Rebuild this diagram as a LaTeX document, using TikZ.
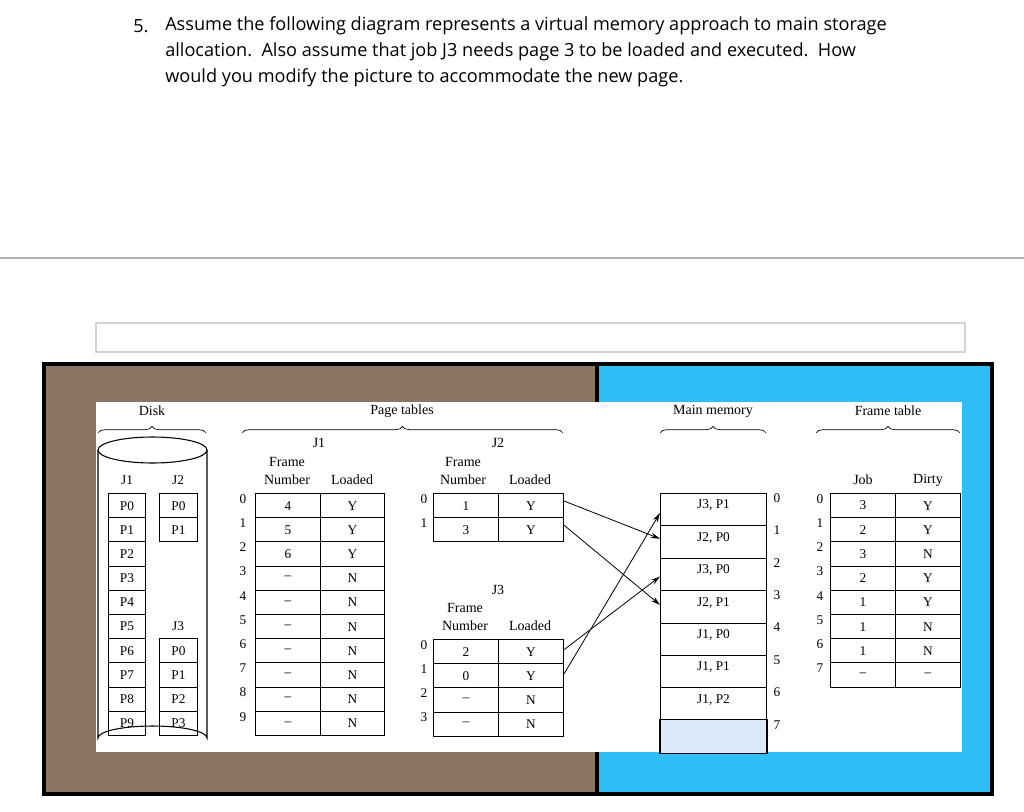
\documentclass[tikz,border=0pt]{standalone}
\usepackage{fontspec}
\setmainfont{Liberation Serif}
\newfontfamily\topfont{Open Sans}
\usetikzlibrary{shapes.geometric,decorations.pathreplacing,arrows.meta}
\definecolor{brownbg}{HTML}{8C7560}
\definecolor{bluebg}{HTML}{2EBFF7}
\definecolor{lightcell}{HTML}{DCE9F8}
\tikzset{
  cell/.style={draw,line width=0.8pt,minimum width=#1*0.75pt,minimum height=24.2*0.75pt,inner sep=0pt,anchor=north west,font=\fontsize{10}{12}\selectfont},
  lbl/.style={font=\fontsize{10}{12}\selectfont,inner sep=0pt},
  hdr/.style={font=\fontsize{10.5}{12}\selectfont,inner sep=0pt},
  brc/.style={decorate,decoration={brace,amplitude=5pt},line width=0.5pt},
  arr/.style={-{Stealth[length=7pt,width=4pt]},line width=0.6pt},
  qtext/.style={font=\topfont\fontsize{13.6}{16}\selectfont,anchor=west,inner sep=0pt}
}
\begin{document}
\begin{tikzpicture}[x=0.75pt,y=-0.75pt]
\useasboundingbox (0,0) rectangle (1024,811);
\fill[white] (0,0) rectangle (1024,811);
% question
\node[qtext] (q0) at (133,26) {5.};
\node[qtext] (q1) at (165,26) {Assume the following diagram represents a virtual memory approach to main storage};
\node[qtext] (q2) at (165,52) {allocation.\ \ Also assume that job J3 needs page 3 to be loaded and executed.\ \ How};
\node[qtext] (q3) at (165,78) {would you modify the picture to accommodate the new page.};
\draw[gray!60,line width=0.8pt] (0,258) -- (1024,258);
\draw[gray!35,line width=0.8pt] (96,323) rectangle (965,352);
% background
\fill[brownbg] (44,364) rectangle (597,794);
\fill[bluebg] (597,364) rectangle (992,794);
\draw[line width=2.5pt] (597,364) -- (597,794);
\draw[line width=2.5pt] (44,364) rectangle (992,794);
\fill[white] (96,402) rectangle (962,752);
% labels and braces
\node[hdr] (ldisk) at (152,411) {Disk};
\node[hdr] (lpt) at (402,411) {Page tables};
\node[hdr] (lmm) at (713,411) {Main memory};
\node[hdr] (lft) at (888,411) {Frame table};
\draw[brc] (98,433) -- (206,433);
\draw[brc] (242,433) -- (563,433);
\draw[brc] (660,433) -- (766,433);
\draw[brc] (816,433) -- (960,433);
% disk cylinder
\draw[line width=0.8pt] (98,450) -- (98,738) arc[start angle=180,end angle=360,x radius=54.5,y radius=12] -- (207,450);
\draw[line width=0.8pt] (152.5,450) ellipse[x radius=54.5,y radius=13];
\node[lbl] (dj1) at (127,480) {J1};
\node[lbl] (dj2) at (178,480) {J2};
\node[lbl] (dj3) at (178,626) {J3};
\foreach \i in {0,...,9}{
  \node[cell=37] (d1\i) at (108,{493+24.2*\i}) {P\i};
}
\foreach \i in {0,1}{
  \node[cell=38] (d2\i) at (159,{493+24.2*\i}) {P\i};
}
\foreach \i in {0,...,3}{
  \node[cell=38] (d3\i) at (159,{638.2+24.2*\i}) {P\i};
}
% J1 page table
\node[hdr] (t1) at (319,443) {J1};
\node[hdr] (t1f) at (287,462) {Frame};
\node[hdr] (t1n) at (287,480) {Number};
\node[hdr] (t1l) at (352,480) {Loaded};
\foreach \i/\f/\l in {0/4/Y,1/5/Y,2/6/Y,3/--/N,4/--/N,5/--/N,6/--/N,7/--/N,8/--/N,9/--/N}{
  \node[cell=65] (a\i) at (255,{493+24.2*\i}) {\f};
  \node[cell=64] (b\i) at (320,{493+24.2*\i}) {\l};
  \node[lbl] (ai\i) at (243,{499+24.2*\i}) {\i};
}
% J2 page table
\node[hdr] (t2) at (498,443) {J2};
\node[hdr] (t2f) at (463,462) {Frame};
\node[hdr] (t2n) at (463,480) {Number};
\node[hdr] (t2l) at (530,480) {Loaded};
\foreach \i/\f/\l in {0/1/Y,1/3/Y}{
  \node[cell=65] (c\i) at (433,{493+24.2*\i}) {\f};
  \node[cell=65] (e\i) at (498,{493+24.2*\i}) {\l};
  \node[lbl] (ci\i) at (424,{499+24.2*\i}) {\i};
}
% J3 page table
\node[hdr] (t3) at (498,590) {J3};
\node[hdr] (t3f) at (465,608) {Frame};
\node[hdr] (t3n) at (465,626) {Number};
\node[hdr] (t3l) at (530,626) {Loaded};
\foreach \i/\f/\l in {0/2/Y,1/0/Y,2/--/N,3/--/N}{
  \node[cell=65] (g\i) at (433,{639+24.2*\i}) {\f};
  \node[cell=65] (h\i) at (498,{639+24.2*\i}) {\l};
  \node[lbl] (gi\i) at (424,{645+24.2*\i}) {\i};
}
% main memory
\foreach \i/\t in {0/{J3, P1},1/{J2, P0},2/{J3, P0},3/{J2, P1},4/{J1, P0},5/{J1, P1},6/{J1, P2},7/{}}{
  \node[cell=106,minimum height=32.4*0.75pt,text depth=8pt] (m\i) at (660,{493+32.4*\i}) {\t};
  \node[lbl] (mi\i) at (777,{498+32.4*\i}) {\i};
}
\fill[lightcell] ([shift={(0.5pt,-0.5pt)}]m7.north west) rectangle ([shift={(-0.5pt,0.5pt)}]m7.south east);
\draw[line width=0.8pt] (m7.north west) rectangle (m7.south east);
% frame table
\node[hdr] (fj) at (863,480) {Job};
\node[hdr] (fd) at (928,480) {Dirty};
\foreach \i/\j/\d in {0/3/Y,1/2/Y,2/3/N,3/2/Y,4/1/Y,5/1/N,6/1/N,7/--/--}{
  \node[cell=65] (f\i) at (830,{493+24.2*\i}) {\j};
  \node[cell=65] (k\i) at (895,{493+24.2*\i}) {\d};
  \node[lbl] (fi\i) at (820,{499+24.2*\i}) {\i};
}
% arrows
\draw[arr] ([yshift=-6pt]e0.north east) -- ([yshift=-10pt]m1.north west);
\draw[arr] ([yshift=-6pt]e1.north east) -- ([yshift=-11pt]m3.north west);
\draw[arr] ([yshift=-8pt]h0.north east) -- ([yshift=-14pt]m2.north west);
\draw[arr] ([yshift=-8pt]h1.north east) -- ([yshift=-15pt]m0.north west);
\end{tikzpicture}
\end{document}
